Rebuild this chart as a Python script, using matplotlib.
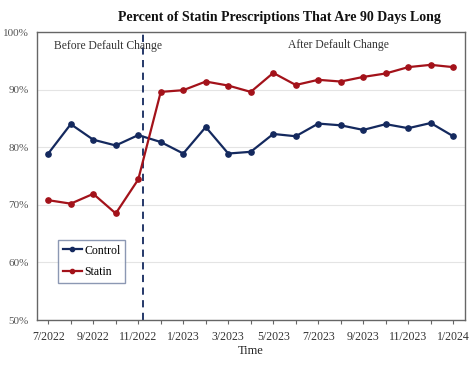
import matplotlib.pyplot as plt
import numpy as np

months = ["7/2022", "8/2022", "9/2022", "10/2022", "11/2022", "12/2022",
          "1/2023", "2/2023", "3/2023", "4/2023", "5/2023", "6/2023",
          "7/2023", "8/2023", "9/2023", "10/2023", "11/2023", "12/2023", "1/2024"]
control = [78.9, 84.0, 81.3, 80.3, 82.1, 80.9, 78.9, 83.5, 78.9, 79.2,
           82.3, 81.9, 84.1, 83.8, 83.0, 84.0, 83.3, 84.2, 81.9]
statin = [70.8, 70.2, 71.9, 68.5, 74.4, 89.6, 89.9, 91.4, 90.7, 89.6,
          92.9, 90.8, 91.7, 91.4, 92.2, 92.8, 93.9, 94.3, 93.9]
change_pos = 4.2

navy = "#14295e"
red = "#a3121a"

plt.rcParams['font.family'] = ['Liberation Serif', 'DejaVu Serif']

fig = plt.figure(figsize=(4.74, 3.84), dpi=100)
ax = fig.add_axes([37 / 474, 1 - 320 / 384, 427.5 / 474, 288 / 384])

x = np.arange(len(months))
ax.plot(x, control, color=navy, lw=1.6, marker='o', ms=3.8, label="Control", zorder=3)
ax.plot(x, statin, color=red, lw=1.6, marker='o', ms=3.8, label="Statin", zorder=3)
ax.axvline(change_pos, color=navy, lw=1.3, ls=(0, (4, 3)), zorder=2)

ax.set_xlim(-0.5, 18.5)
ax.set_ylim(50, 100)
ax.set_yticks(np.arange(50, 101, 10))
ax.set_yticklabels([f"{v}%" for v in range(50, 101, 10)], color="#555555", fontsize=8)
ax.yaxis.grid(True, color="#e4e4e4", lw=0.8)
ax.set_axisbelow(True)
ax.tick_params(axis='y', length=0, pad=6)

ax.set_xticks(x)
ax.set_xticklabels([m if i % 2 == 0 else "" for i, m in enumerate(months)], fontsize=8.5, color="#333333")
ax.tick_params(axis='x', length=3, direction='out', color="#666666", pad=5)
ax.set_xlabel("Time", fontsize=9, color="#222222", labelpad=1)

for s in ax.spines.values():
    s.set_color("#666666")
    s.set_linewidth(1.0)

ax.text(0.25, 97.6, "Before Default Change", fontsize=8.4, color="#333333", va='center')
ax.text(12.9, 97.8, "After Default Change", fontsize=8.4, color="#333333", va='center', ha='center')

fig.text(0.59, 0.955, "Percent of Statin Prescriptions That Are 90 Days Long",
         fontsize=10, fontweight='bold', ha='center', va='center', color="#111111")

leg = ax.legend(loc='lower left', bbox_to_anchor=(21 / 427.5, 37 / 288), fontsize=8.5,
                handlelength=1.6, handletextpad=0.2, labelspacing=0.8, borderpad=0.42,
                borderaxespad=0, frameon=True, fancybox=False, markerscale=0.8)
leg.get_frame().set_edgecolor("#6f7fa0")
leg.get_frame().set_linewidth(1.0)

fig.savefig("out.png", dpi=100)
